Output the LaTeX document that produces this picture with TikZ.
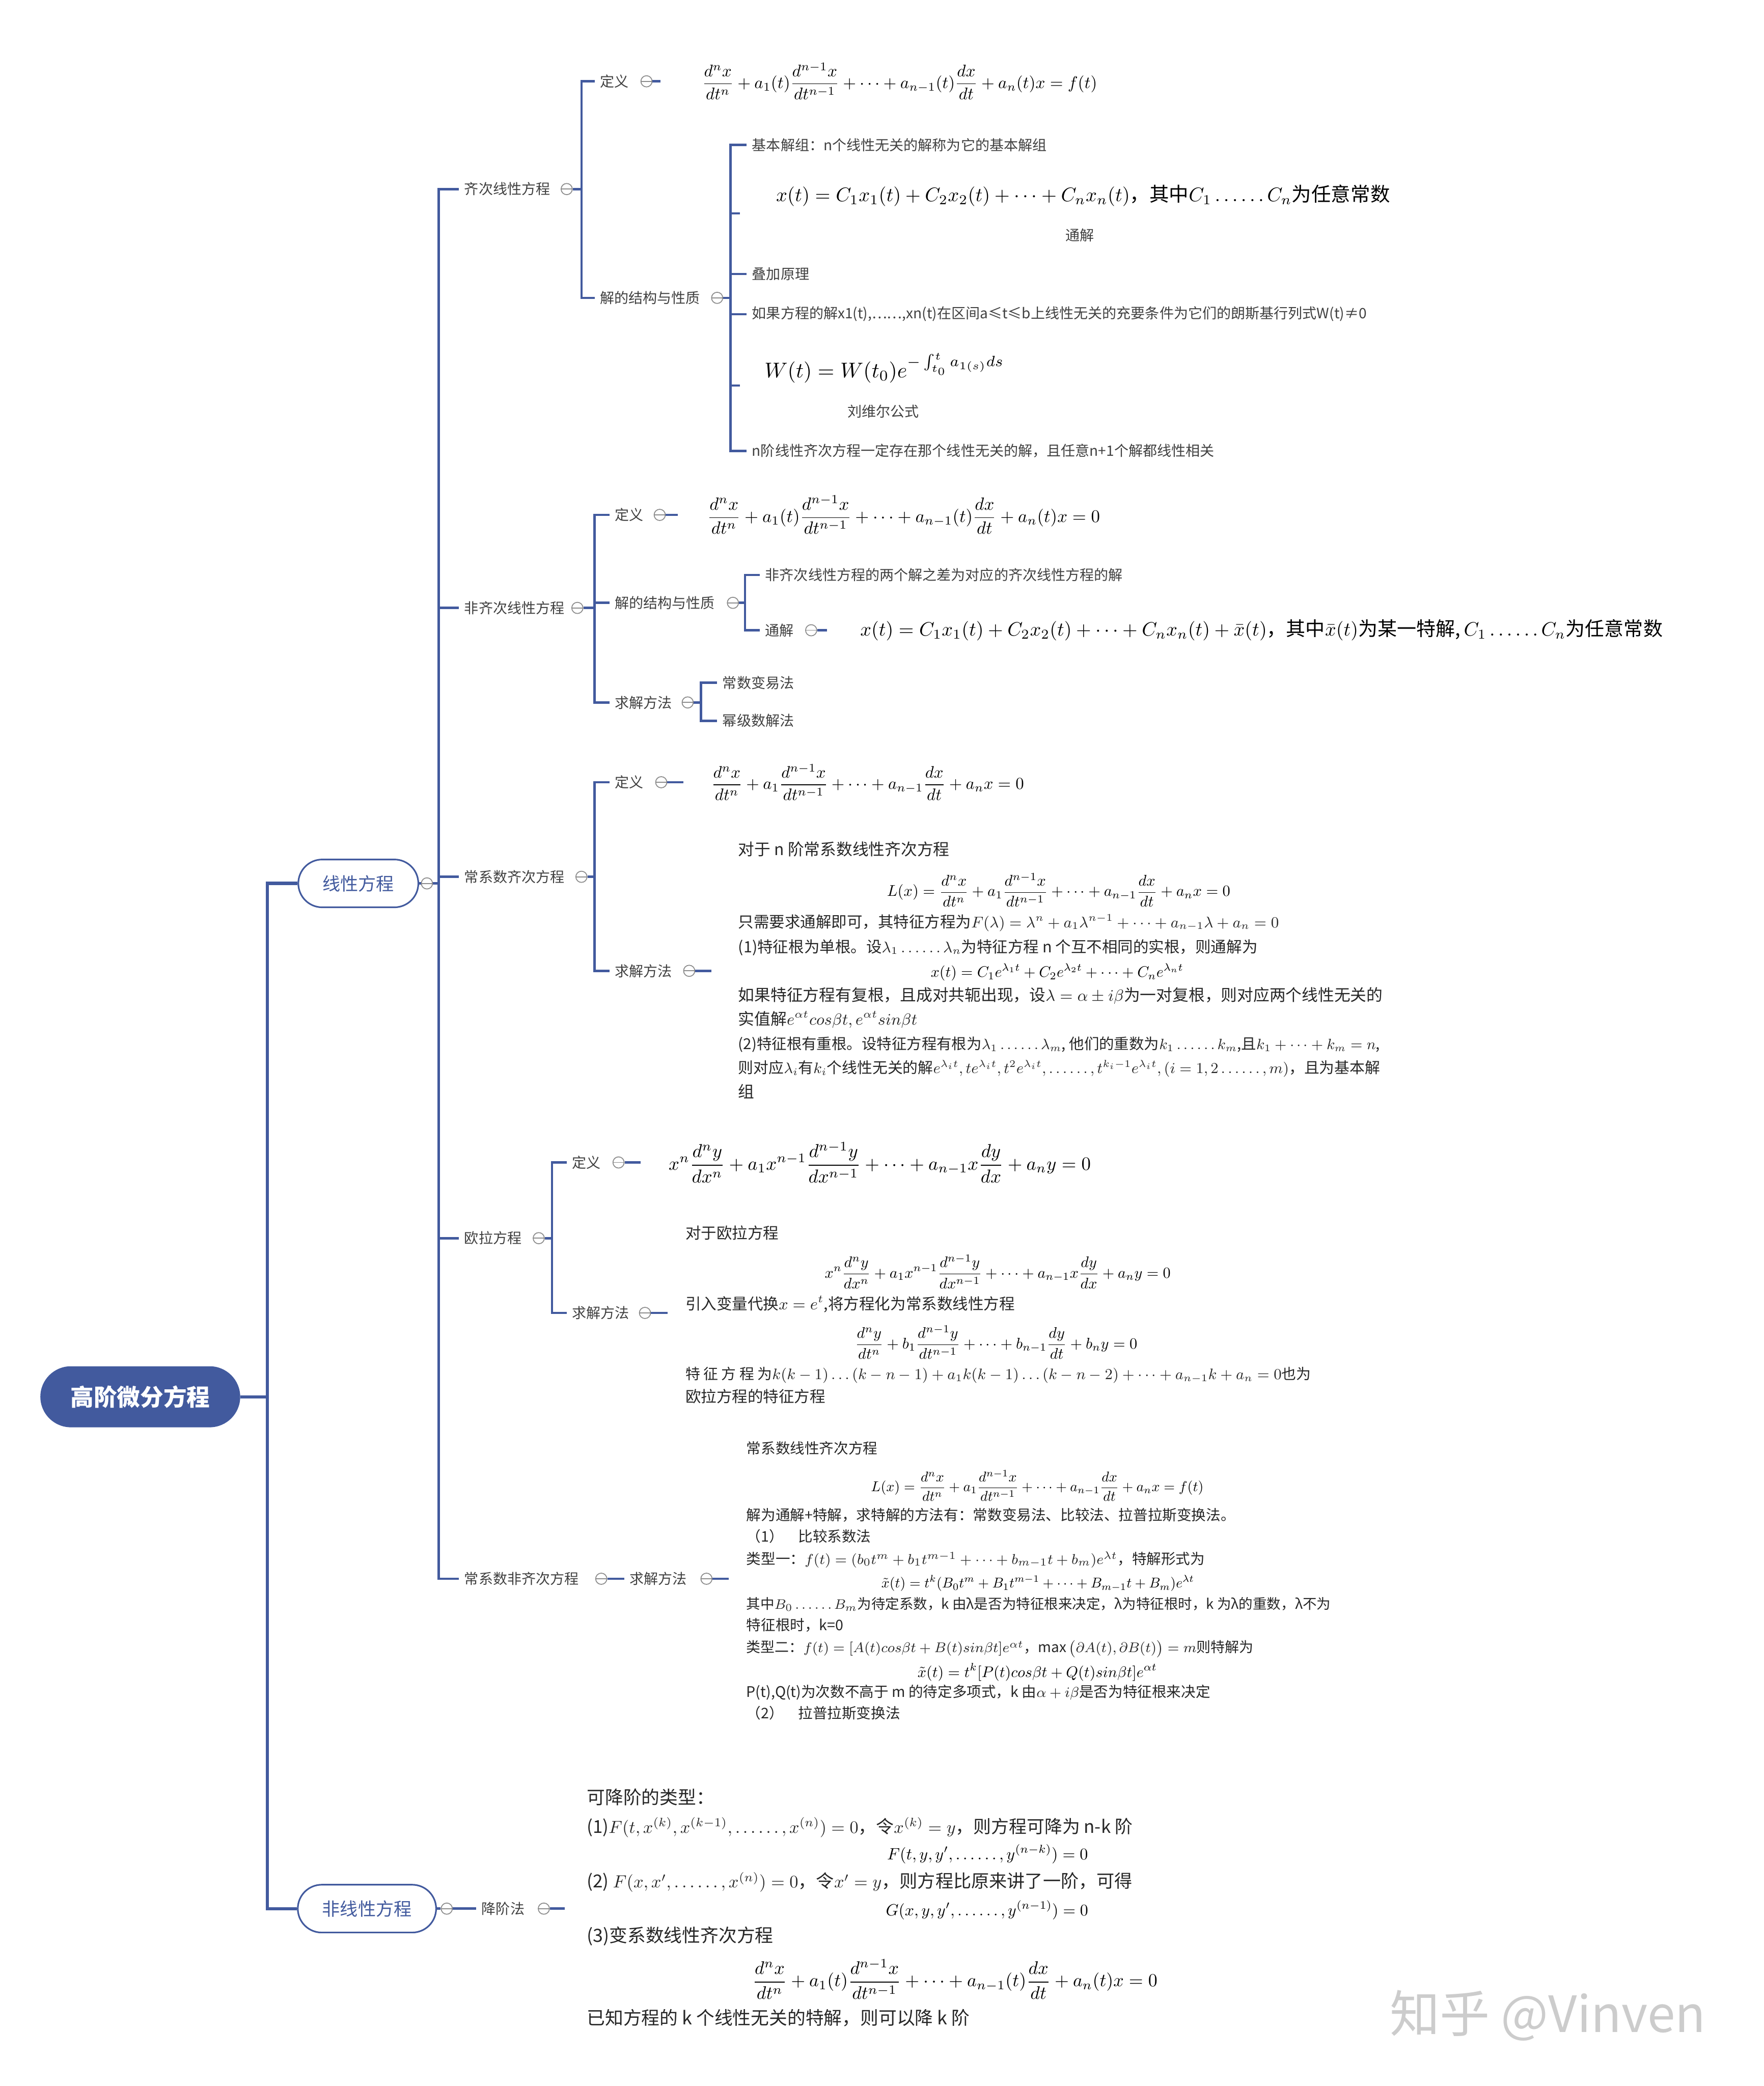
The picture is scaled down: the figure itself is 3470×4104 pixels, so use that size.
\documentclass[tikz,border=0pt]{standalone}
\usepackage{amsmath,amssymb}
\usepackage{graphicx}
\usepackage{fontspec}
\setmainfont{Noto Sans CJK SC}
\usepackage{tikz}
\usetikzlibrary{positioning,calc,fit}
\definecolor{mapBlue}{RGB}{66,90,158}
\definecolor{mapText}{RGB}{64,64,64}
\definecolor{foldGray}{RGB}{140,140,140}
\newcommand{\eqbox}[2]{\resizebox{#1}{!}{$\displaystyle #2$}}
\newcommand{\linew}[2]{\resizebox{#1}{!}{#2}}

\begin{document}
\begin{tikzpicture}[x=0.01cm, y=-0.01cm,
    root/.style={rectangle, rounded corners=0.6cm, fill=mapBlue, text=white, minimum width=3.93cm, minimum height=1.2cm, font=\fontsize{13}{15}\selectfont\bfseries},
    topic/.style={rectangle, rounded corners=0.47cm, draw=mapBlue, line width=0.9pt, fill=white, text=mapBlue, minimum height=0.94cm, font=\fontsize{10}{12}\selectfont},
    lbl/.style={anchor=west, inner xsep=0.1cm, text=mapText, font=\fontsize{8}{10}\selectfont},
    capt/.style={inner sep=0pt, text=mapText, font=\fontsize{8}{10}\selectfont},
    fold/.style={circle, draw=foldGray, fill=white, line width=0.5pt, minimum size=0.22cm, inner sep=0pt,
        path picture={\draw[foldGray, line width=0.5pt] (path picture bounding box.west) -- (path picture bounding box.east);}},
    eqn/.style={inner sep=0pt},
    blk/.style={anchor=base west, inner sep=0pt, text=black!85},
    blkA/.style={blk, font=\fontsize{9.05}{11}\selectfont},
    blkB/.style={blk, font=\fontsize{8.7}{11}\selectfont},
    blkC/.style={blk, font=\fontsize{8.15}{10}\selectfont},
    blkD/.style={blk, font=\fontsize{10.2}{12}\selectfont},
    trunk/.style={mapBlue, line width=1.8pt},
    branch/.style={mapBlue, line width=1.3pt}]
\useasboundingbox (0,0) rectangle (3470,4104);

% root and main topics
\node[root] (root) at (276,2748) {高阶微分方程};
\node[topic, minimum width=2.36cm] (lin) at (705,1738) {线性方程};
\node[fold] (linf) at (840,1738) {};
\node[topic, minimum width=2.72cm] (nonlin) at (722,3755) {非线性方程};
\node[fold] (nonlinf) at (879,3755) {};

\coordinate (tk) at (526,2748);
\draw[trunk] (root.east) -- (tk);
\draw[trunk] (tk) |- (lin.west);
\draw[trunk] (tk) |- (nonlin.west);
\draw[branch] (lin.east) -- (linf.west);
\draw[branch] (nonlin.east) -- (nonlinf.west);

% linear equations
\node[lbl] (q1) at (903,372) {齐次线性方程};
\node[lbl] (q2) at (903,1196) {非齐次线性方程};
\node[lbl] (q3) at (903,1725) {常系数齐次方程};
\node[lbl] (q4) at (903,2436) {欧拉方程};
\node[lbl] (q5) at (903,3106) {常系数非齐次方程};
\node[fold] (q1f) at (1115,372) {};
\node[fold] (q2f) at (1136,1196) {};
\node[fold] (q3f) at (1144,1725) {};
\node[fold] (q4f) at (1060,2436) {};
\node[fold] (q5f) at (1183,3106) {};

\coordinate (lb) at (863,1738);
\draw[branch] (linf.east) -- (lb);
\foreach \n in {q1,q2,q3,q4,q5}
    \draw[branch] (lb) |- (\n.west);

% homogeneous linear
\node[lbl] (q1a) at (1170,160) {定义};
\node[fold] (q1af) at (1272,160) {};
\node[eqn, inner xsep=0.81cm] (f1) at (1770,160) {\eqbox{7.77cm}{\frac{d^nx}{dt^n}+a_1(t)\frac{d^{n-1}x}{dt^{n-1}}+\cdots+a_{n-1}(t)\frac{dx}{dt}+a_n(t)x=f(t)}};
\node[lbl] (q1c) at (1170,586) {解的结构与性质};
\node[fold] (q1cf) at (1411,586) {};
\coordinate (q1b) at (1144,372);
\draw[branch] (q1f.east) -- (q1b);
\draw[branch] (q1b) |- (q1a.west);
\draw[branch] (q1b) |- (q1c.west);
\draw[branch] (q1af.east) -- (f1.west);

\node[lbl] (s1) at (1469,285) {基本解组：n个线性无关的解称为它的基本解组};
\node[eqn] (f2) at (2131,385) {\eqbox{12.07cm}{x(t)=C_1x_1(t)+C_2x_2(t)+\cdots+C_nx_n(t)\text{，其中}C_1\ldots\ldots C_n\text{为任意常数}}};
\node[capt] (f2c) at (2125,463) {通解};
\node[fit=(f2)(f2c), inner xsep=0.7cm, inner ysep=0pt] (f2fit) {};
\node[lbl] (s3) at (1469,539) {叠加原理};
\node[lbl] (s4) at (1469,618) {如果方程的解x1(t),……,xn(t)在区间a≤t≤b上线性无关的充要条件为它们的朗斯基行列式W(t)≠0};
\node[eqn] (f3) at (1740,724) {\eqbox{4.71cm}{W(t)=W(t_0)e^{-\int_{t_0}^{t}a_{1(s)}ds}}};
\node[capt] (f3c) at (1738,809) {刘维尔公式};
\node[fit=(f3)(f3c), inner xsep=0.47cm, inner ysep=0pt] (f3fit) {};
\node[lbl] (s6) at (1469,887) {n阶线性齐次方程一定存在那个线性无关的解，且任意n+1个解都线性相关};
\coordinate (q1cb) at (1437,586);
\draw[branch] (q1cf.east) -- (q1cb);
\foreach \n in {s1,f2fit,s3,s4,f3fit,s6}
    \draw[branch] (q1cb) |- (\n.west);

% non-homogeneous linear
\node[lbl] (q2a) at (1199,1013) {定义};
\node[fold] (q2af) at (1298,1013) {};
\node[eqn, inner xsep=0.57cm] (f4) at (1778,1013) {\eqbox{7.72cm}{\frac{d^nx}{dt^n}+a_1(t)\frac{d^{n-1}x}{dt^{n-1}}+\cdots+a_{n-1}(t)\frac{dx}{dt}+a_n(t)x=0}};
\node[lbl] (q2b) at (1199,1186) {解的结构与性质};
\node[fold] (q2bf) at (1442,1186) {};
\node[lbl] (q2c) at (1199,1382) {求解方法};
\node[fold] (q2cf) at (1353,1382) {};
\coordinate (q2m) at (1170,1196);
\draw[branch] (q2f.east) -- (q2m);
\foreach \n in {q2a,q2b,q2c}
    \draw[branch] (q2m) |- (\n.west);
\draw[branch] (q2af.east) -- (f4.west);

\node[lbl] (t1) at (1495,1131) {非齐次线性方程的两个解之差为对应的齐次线性方程的解};
\node[lbl] (t2) at (1495,1240) {通解};
\node[fold] (t2f) at (1596,1240) {};
\node[eqn, inner xsep=0.65cm] (f5) at (2482,1240) {\eqbox{15.78cm}{x(t)=C_1x_1(t)+C_2x_2(t)+\cdots+C_nx_n(t)+\bar{x}(t)\text{，其中}\bar{x}(t)\text{为某一特解,}\,C_1\ldots\ldots C_n\text{为任意常数}}};
\coordinate (q2bm) at (1466,1186);
\draw[branch] (q2bf.east) -- (q2bm);
\draw[branch] (q2bm) |- (t1.west);
\draw[branch] (q2bm) |- (t2.west);
\draw[branch] (t2f.east) -- (f5.west);

\node[lbl] (t3) at (1411,1343) {常数变易法};
\node[lbl] (t4) at (1411,1418) {幂级数解法};
\coordinate (q2cm) at (1379,1382);
\draw[branch] (q2cf.east) -- (q2cm);
\draw[branch] (q2cm) |- (t3.west);
\draw[branch] (q2cm) |- (t4.west);

% constant coefficient homogeneous
\node[lbl] (q3a) at (1199,1539) {定义};
\node[fold] (q3af) at (1301,1539) {};
\node[eqn, inner xsep=0.54cm] (f6) at (1707,1539) {\eqbox{6.15cm}{\frac{d^nx}{dt^n}+a_1\frac{d^{n-1}x}{dt^{n-1}}+\cdots+a_{n-1}\frac{dx}{dt}+a_nx=0}};
\node[lbl] (q3b) at (1199,1910) {求解方法};
\node[fold] (q3bf) at (1356,1910) {};
\coordinate (q3m) at (1170,1725);
\draw[branch] (q3f.east) -- (q3m);
\draw[branch] (q3m) |- (q3a.west);
\draw[branch] (q3m) |- (q3b.west);
\draw[branch] (q3af.east) -- (f6.west);

\node[blkA] (a1) at (1452,1683) {对于 n 阶常系数线性齐次方程};
\node[eqn] (a2) at (2083,1751) {\eqbox{6.75cm}{L(x)=\frac{d^nx}{dt^n}+a_1\frac{d^{n-1}x}{dt^{n-1}}+\cdots+a_{n-1}\frac{dx}{dt}+a_nx=0}};
\node[blkA] (a3) at (1452,1825) {\linew{10.63cm}{只需要求通解即可，其特征方程为$F(\lambda)=\lambda^n+a_1\lambda^{n-1}+\cdots+a_{n-1}\lambda+a_n=0$}};
\node[blkA] (a4) at (1452,1874) {\linew{10.21cm}{(1)特征根为单根。设$\lambda_1\ldots\ldots\lambda_n$为特征方程 n 个互不相同的实根，则通解为}};
\node[eqn] (a5) at (2080,1913) {\eqbox{4.97cm}{x(t)=C_1e^{\lambda_1t}+C_2e^{\lambda_2t}+\cdots+C_ne^{\lambda_nt}}};
\node[blkA] (a6) at (1452,1969) {如果特征方程有复根，且成对共轭出现，设$\lambda=\alpha\pm i\beta$为一对复根，则对应两个线性无关的};
\node[blkA] (a7) at (1452,2016) {实值解$e^{\alpha t}cos\beta t,e^{\alpha t}sin\beta t$};
\node[blkA] (a8) at (1452,2065) {\linew{12.62cm}{(2)特征根有重根。设特征方程有根为$\lambda_1\ldots\ldots\lambda_m$, 他们的重数为$k_1\ldots\ldots k_m$,且$k_1+\cdots+k_m=n$,}};
\node[blkA] (a9) at (1452,2112) {\linew{12.62cm}{则对应$\lambda_i$有$k_i$个线性无关的解$e^{\lambda_it},te^{\lambda_it},t^2e^{\lambda_it},\ldots\ldots,t^{k_i-1}e^{\lambda_it},(i=1,2\ldots\ldots,m)$，且为基本解}};
\node[blkA] (a10) at (1452,2160) {组};
\node[fit=(a1)(a10), inner xsep=0.52cm, inner ysep=0pt] (blkAfit) {};
\draw[branch] (q3bf.east) -- (q3bf.east -| blkAfit.west);

% Euler equation
\node[lbl] (q4a) at (1115,2287) {定义};
\node[fold] (q4af) at (1217,2287) {};
\node[eqn, inner xsep=0.55cm] (f7) at (1731,2287) {\eqbox{8.3cm}{x^n\frac{d^ny}{dx^n}+a_1x^{n-1}\frac{d^{n-1}y}{dx^{n-1}}+\cdots+a_{n-1}x\frac{dy}{dx}+a_ny=0}};
\node[lbl] (q4b) at (1115,2583) {求解方法};
\node[fold] (q4bf) at (1269,2583) {};
\coordinate (q4m) at (1086,2436);
\draw[branch] (q4f.east) -- (q4m);
\draw[branch] (q4m) |- (q4a.west);
\draw[branch] (q4m) |- (q4b.west);
\draw[branch] (q4af.east) -- (f7.west);

\node[blkB] (b1) at (1348,2437) {对于欧拉方程};
\node[eqn] (b2) at (1963,2502) {\eqbox{6.8cm}{x^n\frac{d^ny}{dx^n}+a_1x^{n-1}\frac{d^{n-1}y}{dx^{n-1}}+\cdots+a_{n-1}x\frac{dy}{dx}+a_ny=0}};
\node[blkB] (b3) at (1348,2576) {引入变量代换$x=e^t$,将方程化为常系数线性方程};
\node[eqn] (b4) at (1960,2641) {\eqbox{5.55cm}{\frac{d^ny}{dt^n}+b_1\frac{d^{n-1}y}{dt^{n-1}}+\cdots+b_{n-1}\frac{dy}{dt}+b_ny=0}};
\node[blkB] (b5) at (1348,2714) {\linew{12.3cm}{特 征 方 程 为$k(k-1)\ldots(k-n-1)+a_1k(k-1)\ldots(k-n-2)+\cdots+a_{n-1}k+a_n=0$也为}};
\node[blkB] (b6) at (1348,2759) {欧拉方程的特征方程};
\node[fit=(b1)(b6), inner xsep=0.34cm, inner ysep=0pt] (blkBfit) {};
\draw[branch] (q4bf.east) -- (q4bf.east -| blkBfit.west);

% constant coefficient non-homogeneous
\node[lbl] (q5a) at (1228,3106) {求解方法};
\node[fold] (q5af) at (1390,3106) {};
\draw[branch] (q5f.east) -- (q5a.west);

\node[blkC] (c1) at (1468,2860) {常系数线性齐次方程};
\node[eqn] (c2) at (2041,2923) {\eqbox{6.54cm}{L(x)=\frac{d^nx}{dt^n}+a_1\frac{d^{n-1}x}{dt^{n-1}}+\cdots+a_{n-1}\frac{dx}{dt}+a_nx=f(t)}};
\node[blkC] (c3) at (1468,2991) {解为通解+特解，求特解的方法有：常数变易法、比较法、拉普拉斯变换法。};
\node[blkC] (c4) at (1468,3033) {（1）\quad 比较系数法};
\node[blkC] (c5) at (1468,3077) {类型一：$f(t)=(b_0t^m+b_1t^{m-1}+\cdots+b_{m-1}t+b_m)e^{\lambda t}$，特解形式为};
\node[eqn] (c6) at (2042,3115) {\eqbox{6.15cm}{\tilde{x}(t)=t^k(B_0t^m+B_1t^{m-1}+\cdots+B_{m-1}t+B_m)e^{\lambda t}}};
\node[blkC] (c7) at (1468,3166) {\linew{11.49cm}{其中$B_0\ldots\ldots B_m$为待定系数，k 由λ是否为特征根来决定，λ为特征根时，k 为λ的重数，λ不为}};
\node[blkC] (c8) at (1468,3208) {特征根时，k=0};
\node[blkC] (c9) at (1468,3251) {\linew{9.97cm}{类型二：$f(t)=[A(t)cos\beta t+B(t)sin\beta t]e^{\alpha t}$，$\max\big(\partial A(t),\partial B(t)\big)=m$则特解为}};
\node[eqn] (c10) at (2041,3290) {\eqbox{4.71cm}{\tilde{x}(t)=t^k[P(t)cos\beta t+Q(t)sin\beta t]e^{\alpha t}}};
\node[blkC] (c11) at (1468,3339) {P(t),Q(t)为次数不高于 m 的待定多项式，k 由$\alpha+i\beta$是否为特征根来决定};
\node[blkC] (c12) at (1468,3381) {（2）\quad 拉普拉斯变换法};
\node[fit=(c1)(c12), inner xsep=0.34cm, inner ysep=0pt] (blkCfit) {};
\draw[branch] (q5af.east) -- (q5af.east -| blkCfit.west);

% non-linear equations
\node[lbl] (d0) at (937,3755) {降阶法};
\node[fold] (d0f) at (1070,3755) {};
\draw[branch] (nonlinf.east) -- (d0.west);

\node[blkD] (d1) at (1154,3549) {可降阶的类型：};
\node[blkD] (d2) at (1154,3606) {\linew{10.73cm}{(1)$F(t,x^{(k)},x^{(k-1)},\ldots\ldots,x^{(n)})=0$，令$x^{(k)}=y$，则方程可降为 n-k 阶}};
\node[eqn] (d3) at (1943,3648) {\eqbox{3.95cm}{F(t,y,y',\ldots\ldots,y^{(n-k)})=0}};
\node[blkD] (d4) at (1154,3714) {\linew{10.73cm}{(2) $F(x,x',\ldots\ldots,x^{(n)})=0$，令$x'=y$，则方程比原来讲了一阶，可得}};
\node[eqn] (d5) at (1942,3758) {\eqbox{3.98cm}{G(x,y,y',\ldots\ldots,y^{(n-1)})=0}};
\node[blkD] (d6) at (1154,3821) {(3)变系数线性齐次方程};
\node[eqn] (d7) at (1879,3894) {\eqbox{7.96cm}{\frac{d^nx}{dt^n}+a_1(t)\frac{d^{n-1}x}{dt^{n-1}}+\cdots+a_{n-1}(t)\frac{dx}{dt}+a_n(t)x=0}};
\node[blkD] (d8) at (1154,3983) {已知方程的 k 个线性无关的特解，则可以降 k 阶};
\node[fit=(d1)(d8), inner xsep=0.42cm, inner ysep=0pt] (blkDfit) {};
\draw[branch] (d0f.east) -- (d0f.east -| blkDfit.west);

% watermark
\node[anchor=west, text=gray!40, font=\fontsize{28}{30}\selectfont] (wm) at (2722,3965) {知乎 @Vinven};
\end{tikzpicture}
\end{document}
